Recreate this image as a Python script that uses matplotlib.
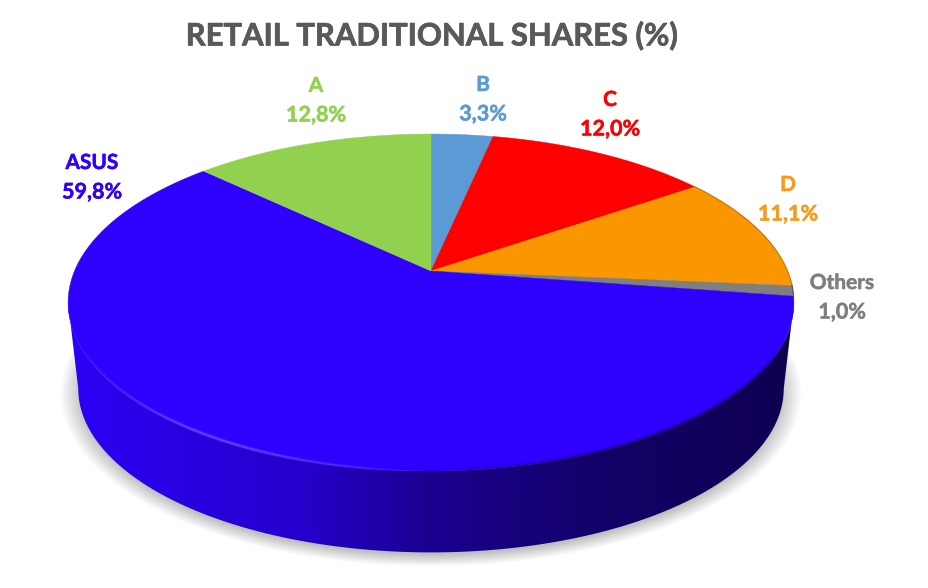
# IMPORT NECESSARY MODULES---------------------------------------------------->
import numpy as np
import matplotlib
matplotlib.use('Agg')
import matplotlib.pyplot as plt
import matplotlib.patheffects as pe
from matplotlib.patches import Polygon
from matplotlib.collections import LineCollection
from matplotlib.colors import LinearSegmentedColormap

# DATA------------------------------------------------------------------------>
labels = ['B', 'C', 'D', 'Others', 'ASUS', 'A']
shares = [3.3, 12.0, 11.1, 1.0, 59.8, 12.8]
title = 'RETAIL TRADITIONAL SHARES (%)'

# PIE GEOMETRY (pixels, perspective of the tilted disc)----------------------->
cx, cy = 431, 271
rx, ry = 356.5, 162.6
k = 0.187
bottom_scale, bottom_cy = 0.972, 358

slice_colors = ['#5B9BD5', '#FF0000', '#FA9600', '#7F7F7F', '#3000FF', '#92D050']
text_colors = ['#5B9BD5', '#FF0000', '#F79A1E', '#7F7F7F', '#3000FF', '#92D050']
label_pos = [(483, 85), (610, 100), (788, 185), (842, 283), (92, 163), (316, 86)]


def project(theta, r=1.0, centre=cy, scale=1.0):
    # theta runs clockwise from the top of the disc
    u, v = r * np.sin(theta), r * np.cos(theta)
    w = 1 + k * v
    return cx + scale * rx * u / w, centre - scale * ry * v / w


plt.rcParams['font.family'] = ['Lato', 'DejaVu Sans']
fig = plt.figure(figsize=(9.29, 5.88), dpi=100)
ax = fig.add_axes([0, 0, 1, 1])
ax.set_xlim(0, 929)
ax.set_ylim(588, 0)
ax.axis('off')

theta_edge = np.arccos(-k)  # where the outline is widest

# SOFT SHADOW UNDER THE PIE---------------------------------------------------->
full = np.linspace(0, 2 * np.pi, 400)
for grow in np.linspace(1.05, 0.99, 16):
    sx, sy = project(full, centre=bottom_cy + 4, scale=bottom_scale * grow)
    ax.add_patch(Polygon(np.c_[sx, sy], closed=True, fc='#000000', ec='none',
                         alpha=0.016, zorder=1))

# SIDE WALL WITH LEFT TO RIGHT GRADIENT---------------------------------------->
front = np.linspace(theta_edge, 2 * np.pi - theta_edge, 300)
bx, by = project(front, centre=bottom_cy, scale=bottom_scale)
tx, ty = project(front)
side_xy = np.r_[np.c_[bx, by], np.c_[tx, ty][::-1]]
side = Polygon(side_xy, closed=True, fc='none', ec='none')
ax.add_patch(side)
side_cmap = LinearSegmentedColormap.from_list('side', [
    (0.00, '#2C00F5'), (0.10, '#2A00E8'), (0.32, '#2500CC'), (0.50, '#1B008F'),
    (0.72, '#14006A'), (1.00, '#100050')])
grad = np.linspace(0, 1, 512).reshape(1, -1)
im = ax.imshow(grad, cmap=side_cmap, extent=(68, 795, 560, 280), aspect='auto', zorder=2)
im.set_clip_path(side)
ax.set_xlim(0, 929)
ax.set_ylim(588, 0)

# TOP FACE SLICES-------------------------------------------------------------->
edges = np.r_[0, np.cumsum(shares)] / sum(shares) * 2 * np.pi
for i in range(len(shares)):
    t = np.linspace(edges[i], edges[i + 1], 200)
    x, y = project(t)
    xy = np.r_[[project(0.0, r=0.0)], np.c_[x, y]]
    ax.add_patch(Polygon(xy, closed=True, fc=slice_colors[i], ec=slice_colors[i],
                         lw=0.3, zorder=3))

# RIM SHADING------------------------------------------------------------------>
# dark edge on the D and Others slices
for i, dark in [(2, '#C07A10'), (3, '#555555')]:
    t = np.linspace(edges[i], edges[i + 1], 100)
    x, y = project(t)
    ax.plot(x, y, color=dark, lw=0.8, zorder=4)

# highlight on the left part of the front rim, dark blur on the right part
t = np.linspace(theta_edge, 2 * np.pi - theta_edge, 400)
x, y = project(t)
pts = np.c_[x, y]
segs = np.stack([pts[:-1], pts[1:]], axis=1)
mid_x = x[:-1]
light = np.clip((431 - mid_x) / 200, 0, 1) * np.clip((mid_x - 72) / 120, 0, 1)
for lw, alpha in [(3.0, 0.25), (1.4, 0.7)]:
    ax.add_collection(LineCollection(segs, colors=[(0.42, 0.33, 1.0, a * alpha) for a in light],
                                     linewidths=lw, zorder=5))
shade = np.clip((mid_x - 380) / 300, 0, 1) * np.clip((785 - mid_x) / 30, 0, 1)
for lw, alpha in [(5, 0.15), (3, 0.25), (1.5, 0.35)]:
    ax.add_collection(LineCollection(segs, colors=[(0.06, 0.0, 0.3, a * alpha) for a in shade],
                                     linewidths=lw, zorder=5))

# TEXT------------------------------------------------------------------------->
heavy = [pe.withStroke(linewidth=0.5, foreground='#595959')]
ax.text(432, 36, title, ha='center', va='center', fontsize=22.3, fontweight='bold',
        color='#595959', zorder=6, path_effects=heavy)
for i in range(len(labels)):
    px, py = label_pos[i]
    stroke = [pe.withStroke(linewidth=0.35, foreground=text_colors[i])]
    ax.text(px, py, labels[i], ha='center', va='center', fontsize=15, fontweight='bold',
            color=text_colors[i], zorder=6, path_effects=stroke)
    value = ('%.1f%%' % shares[i]).replace('.', ',')
    ax.text(px, py + 29, value, ha='center', va='center', fontsize=15.5, fontweight='bold',
            color=text_colors[i], zorder=6, path_effects=stroke)

fig.savefig('out.png', dpi=100)
